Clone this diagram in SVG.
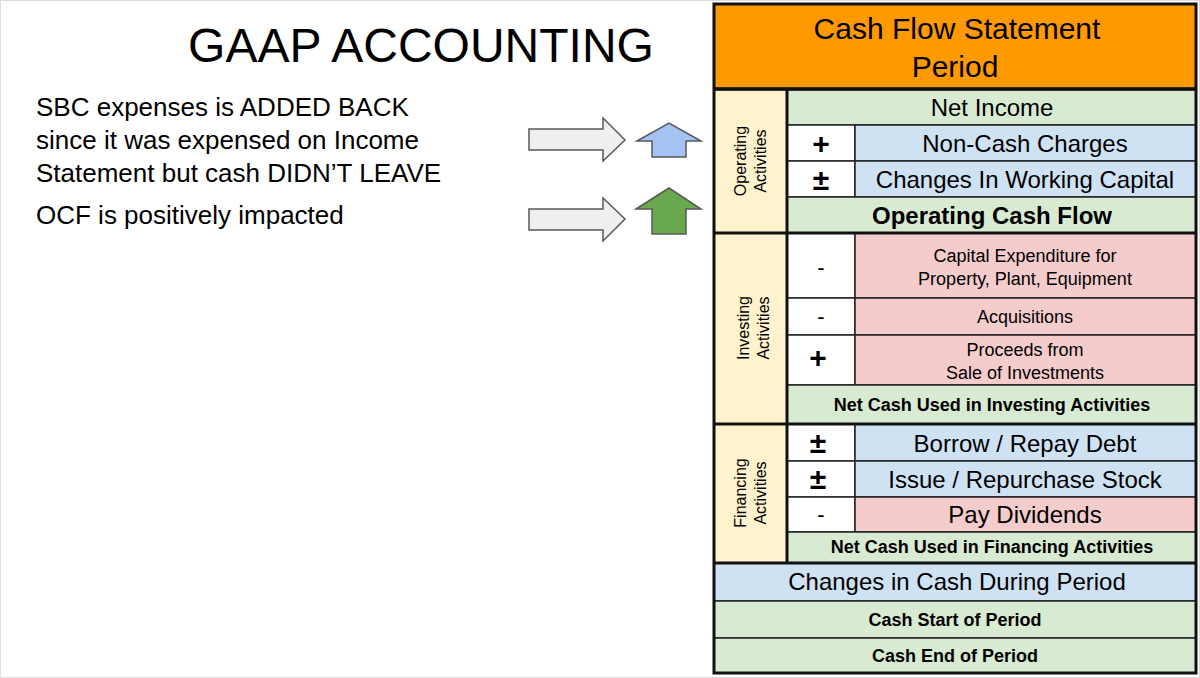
<svg xmlns="http://www.w3.org/2000/svg" width="1200" height="678" viewBox="0 0 1200 678">
<style>
text{font-family:"Liberation Sans",Arial,sans-serif;fill:#000}
.c{stroke:#222;stroke-width:1.5}
.g{fill:#d9ead3}.b{fill:#cfe2f3}.r{fill:#f4cccc}.y{fill:#fff2cc}.w{fill:#fff}
.m{text-anchor:middle}
.ga{fill:#efefef;stroke:#595959;stroke-width:1.5}
</style>
<rect width="1200" height="678" fill="#fff"/>
<rect x="0.5" y="0.5" width="1199" height="677" fill="none" stroke="#ddd"/>
<g id="title"><text x="421" y="62" font-size="48" class="m">GAAP ACCOUNTING</text></g>
<g id="notes" font-size="26">
<text x="36" y="116">SBC expenses is ADDED BACK</text>
<text x="36" y="149">since it was expensed on Income</text>
<text x="36" y="182">Statement but cash DIDN’T LEAVE</text>
<text x="36" y="224">OCF is positively impacted</text>
</g>
<g id="connectors">
<path class="ga" d="M529 129H603V118L625 140L603 161V150H529Z"/>
<path class="ga" d="M529 209H603V198L625 219L603 241V230H529Z"/>
</g>
<g id="arrow-blue"><path d="M637 141L669 123L701 141H686V157H652V141Z" fill="#a4c2f4" stroke="#595959" stroke-width="1.5"/></g>
<g id="arrow-green"><path d="M636 209L669 188L701 209H686V234H652V209Z" fill="#6aa84f" stroke="#595959" stroke-width="1.5"/></g>
<g id="table">
<rect x="714" y="4" width="482" height="84" fill="#ff9900" class="c"/>
<text x="957" y="39" font-size="30" class="m">Cash Flow Statement</text>
<text x="955" y="77" font-size="30" class="m">Period</text>
<g class="c">
<rect x="714" y="90" width="73" height="143" class="y c"/>
<rect x="714" y="233" width="73" height="191" class="y c"/>
<rect x="714" y="424" width="73" height="139" class="y c"/>
<rect x="787" y="90" width="409" height="35" class="g c"/>
<rect x="787" y="125" width="68" height="36" class="w c"/><rect x="855" y="125" width="341" height="36" class="b c"/>
<rect x="787" y="161" width="68" height="36" class="w c"/><rect x="855" y="161" width="341" height="36" class="b c"/>
<rect x="787" y="197" width="409" height="36" class="g c"/>
<rect x="787" y="233" width="68" height="65" class="w c"/><rect x="855" y="233" width="341" height="65" class="r c"/>
<rect x="787" y="298" width="68" height="37" class="w c"/><rect x="855" y="298" width="341" height="37" class="r c"/>
<rect x="787" y="335" width="68" height="50" class="w c"/><rect x="855" y="335" width="341" height="50" class="r c"/>
<rect x="787" y="385" width="409" height="39" class="g c"/>
<rect x="787" y="424" width="68" height="37" class="w c"/><rect x="855" y="424" width="341" height="37" class="b c"/>
<rect x="787" y="461" width="68" height="36" class="w c"/><rect x="855" y="461" width="341" height="36" class="b c"/>
<rect x="787" y="497" width="68" height="35" class="w c"/><rect x="855" y="497" width="341" height="35" class="r c"/>
<rect x="787" y="532" width="409" height="31" class="g c"/>
<rect x="714" y="563" width="482" height="38" class="b c"/>
<rect x="714" y="601" width="482" height="37" class="g c"/>
<rect x="714" y="638" width="482" height="35" class="g c"/>
</g>
<rect x="714" y="4" width="482" height="669" fill="none" stroke="#111" stroke-width="3"/>
<line x1="714" y1="233" x2="1196" y2="233" stroke="#111" stroke-width="3"/>
<line x1="714" y1="424" x2="1196" y2="424" stroke="#111" stroke-width="3"/>
<line x1="714" y1="563" x2="1196" y2="563" stroke="#111" stroke-width="3"/>
<line x1="714" y1="89" x2="1196" y2="89" stroke="#111" stroke-width="3"/>
<line x1="787" y1="89" x2="787" y2="563" stroke="#111" stroke-width="3"/>
<g font-size="16" class="m">
<text transform="translate(746 161) rotate(-90)" class="m">Operating</text>
<text transform="translate(766 161) rotate(-90)" class="m">Activities</text>
<text transform="translate(749 328) rotate(-90)" class="m">Investing</text>
<text transform="translate(769 328) rotate(-90)" class="m">Activities</text>
<text transform="translate(746 493) rotate(-90)" class="m">Financing</text>
<text transform="translate(766 493) rotate(-90)" class="m">Activities</text>
</g>
<g font-size="24" class="m">
<text x="992" y="116" class="m">Net Income</text>
<text x="1025" y="152" class="m">Non-Cash Charges</text>
<text x="1025" y="188" class="m">Changes In Working Capital</text>
<text x="992" y="224" class="m" font-weight="bold">Operating Cash Flow</text>
<text x="1025" y="452" class="m">Borrow / Repay Debt</text>
<text x="1025" y="488" class="m">Issue / Repurchase Stock</text>
<text x="1025" y="523" class="m">Pay Dividends</text>
<text x="957" y="590" class="m">Changes in Cash During Period</text>
</g>
<g font-size="18" class="m">
<text x="1025" y="262" class="m">Capital Expenditure for</text>
<text x="1025" y="285" class="m">Property, Plant, Equipment</text>
<text x="1025" y="323" class="m">Acquisitions</text>
<text x="1025" y="356" class="m">Proceeds from</text>
<text x="1025" y="379" class="m">Sale of Investments</text>
</g>
<g font-size="18" font-weight="bold" class="m">
<text x="992" y="411" class="m">Net Cash Used in Investing Activities</text>
<text x="992" y="553" class="m">Net Cash Used in Financing Activities</text>
<text x="955" y="626" class="m">Cash Start of Period</text>
<text x="955" y="662" class="m">Cash End of Period</text>
</g>
<g font-size="30" font-weight="bold" class="m">
<text x="821" y="154" class="m">+</text>
<text x="821" y="190" class="m">±</text>
<text x="818" y="368" class="m">+</text>
<text x="818" y="453" class="m">±</text>
<text x="818" y="489" class="m">±</text>
</g>
<g font-size="22" class="m">
<text x="821" y="275" class="m">-</text>
<text x="821" y="324" class="m">-</text>
<text x="821" y="522" class="m">-</text>
</g>
</g>
</svg>
